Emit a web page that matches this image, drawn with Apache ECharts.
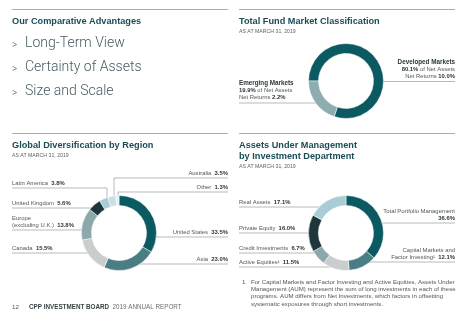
<!DOCTYPE html>
<html>
<head>
<meta charset="utf-8">
<script src="https://cdn.jsdelivr.net/npm/echarts@6/dist/echarts.min.js"></script>
<style>
  html, body { margin: 0; padding: 0; background: #ffffff; }
  #chart { width: 474px; height: 332px; }
</style>
</head>
<body>
<div id="chart"></div>
<script>
// ---- Data ----
const advantages = ['Long-Term View', 'Certainty of Assets', 'Size and Scale'];

const marketNames = ['Developed Markets', 'Emerging Markets'];
const marketShare = [80.1, 19.9];
const marketReturns = [10.0, 2.2];

const regionNames = ['United States', 'Asia', 'Canada', 'Europe\n(excluding U.K.)',
  'United Kingdom', 'Latin America', 'Australia', 'Other'];
const regionShare = [33.5, 23.0, 15.5, 13.8, 5.6, 3.8, 3.5, 1.3];

const deptNames = ['Total Portfolio Management\n', 'Capital Markets and\nFactor Investing¹',
  'Active Equities¹', 'Credit Investments', 'Private Equity', 'Real Assets'];
const deptShare = [36.6, 12.1, 11.5, 6.7, 16.0, 17.1];

const subtitle = 'AS AT MARCH 31, 2019';
const footnote = [
  'For Capital Markets and Factor Investing and Active Equities, Assets Under',
  'Management (AUM) represent the sum of long investments in each of these',
  'programs. AUM differs from Net Investments, which factors in offsetting',
  'systematic exposures through short investments.'
];

// ---- Styling ----
const FONT = '"Liberation Sans", Arial, sans-serif';
const HEAD = '#1b4d56';
const BODY = '#50575a';
const STRONG = '#2b3639';
const RULE = '#a8adaf';
const LEAD = '#959b9d';

const marketColors = ['#0b5a62', '#8dadb1'];
const regionColors = ['#0b5a62', '#4b7e84', '#c9cdce', '#8ba8ab', '#1f363c', '#a9ccd6', '#c8dfe6', '#e3eef1'];
const deptColors = ['#0b5a62', '#4b7e84', '#c9cdce', '#8ba8ab', '#1f363c', '#a8cdd7'];

// label anchor + leader line per slice (layout only)
const regionLayout = [
  { x: 228, y: 235.5, align: 'right', line: [[150, 237], [228, 237]] },
  { x: 228, y: 262.5, align: 'right', line: [[118, 264], [228, 264]] },
  { x: 12, y: 251.5, align: 'left', line: [[12, 253], [93, 253]] },
  { x: 12, y: 228.5, align: 'left', line: [[12, 230], [88, 230]] },
  { x: 12, y: 206.5, align: 'left', line: [[12, 208], [94, 208]] },
  { x: 12, y: 186.5, align: 'left', line: [[12, 188], [107, 188], [107, 201]] },
  { x: 228, y: 176.5, align: 'right', line: [[228, 178], [114, 178], [114, 199]] },
  { x: 228, y: 190.5, align: 'right', line: [[228, 192], [118, 192], [118, 201]] }
];
const deptLayout = [
  { x: 455, y: 221.5, align: 'right', line: [[377, 223], [455, 223]] },
  { x: 455, y: 260.5, align: 'right', line: [[352, 262], [455, 262]] },
  { x: 239, y: 265.5, align: 'left', line: [[239, 267], [339, 267]] },
  { x: 239, y: 251.5, align: 'left', line: [[239, 253], [320, 253]] },
  { x: 239, y: 231.5, align: 'left', line: [[239, 233], [316, 233]] },
  { x: 239, y: 205.5, align: 'left', line: [[239, 207], [327, 207]] }
];
const marketLayout = [
  { x: 455, y: 79.5, align: 'right', line: [[378, 81.5], [455, 81.5]] },
  { x: 239, y: 101, align: 'left', line: [[239, 103], [322, 103]] }
];

const labelRich = {
  n: { fontFamily: FONT, fontSize: 5.9, fill: BODY, lineHeight: 7 },
  v: { fontFamily: FONT, fontSize: 5.9, fontWeight: 'bold', fill: STRONG, lineHeight: 7 },
  h: { fontFamily: FONT, fontSize: 6.3, fontWeight: 'bold', fill: STRONG, lineHeight: 7 }
};

function pct(v) { return v.toFixed(1) + '%'; }

// name lines in regular weight, value appended in bold on the last line
function sliceLabel(name, value) {
  const lines = name.split('\n');
  const last = lines.pop();
  const out = lines.map(l => '{n|' + l + '}');
  out.push((last ? '{n|' + last + '}  ' : '') + '{v|' + pct(value) + '}');
  return out.join('\n');
}

const graphics = [];
function text(x, y, str, style) {
  graphics.push({ type: 'text', x: x, y: y, silent: true,
    style: Object.assign({ text: str, fontFamily: FONT, verticalAlign: 'middle' }, style) });
}
function rule(x1, x2, y) {
  graphics.push({ type: 'line', silent: true, shape: { x1: x1, y1: y, x2: x2, y2: y },
    style: { stroke: RULE, lineWidth: 1 } });
}
function leader(points) {
  graphics.push({ type: 'polyline', silent: true, shape: { points: points },
    style: { stroke: LEAD, lineWidth: 0.7, fill: null } });
}
function sliceLabels(names, values, layout) {
  names.forEach((n, i) => {
    const L = layout[i];
    leader(L.line);
    graphics.push({ type: 'text', x: L.x, y: L.y, silent: true,
      style: { text: sliceLabel(n, values[i]), rich: labelRich, align: L.align,
        verticalAlign: 'bottom', fontFamily: FONT, fontSize: 5.9, lineHeight: 7 } });
  });
}

// section rules
rule(12, 228, 9.5); rule(239, 455, 9.5);
rule(12, 228, 133.5); rule(239, 455, 133.5);

// headings
const headStyle = { fontSize: 9.2, fontWeight: 'bold', fill: HEAD };
const subStyle = { fontSize: 5.2, fill: '#5d6466' };
text(12, 21, 'Our Comparative Advantages', headStyle);
text(239, 21, 'Total Fund Market Classification', headStyle);
text(239, 32, subtitle, subStyle);
text(12, 145, 'Global Diversification by Region', headStyle);
text(12, 155.5, subtitle, subStyle);
text(239, 145, 'Assets Under Management', headStyle);
text(239, 156, 'by Investment Department', headStyle);
text(239, 166.5, subtitle, subStyle);

// comparative advantages list
advantages.forEach((a, i) => {
  const y = 43 + i * 24;
  text(12, y + 2, '>', { fontSize: 10, fill: '#4f6166', fontFamily: 'Roboto, sans-serif', fontWeight: 300 });
  text(25, y, a, { fontSize: 14, fill: '#465b60', fontFamily: 'Roboto, sans-serif', fontWeight: 300 });
});

// market classification labels
marketNames.forEach((n, i) => {
  const L = marketLayout[i];
  leader(L.line);
  graphics.push({ type: 'text', x: L.x, y: L.y, silent: true,
    style: { text: '{h|' + n + '}\n{v|' + pct(marketShare[i]) + '} {n|of Net Assets}\n{n|Net Returns} {v|' + pct(marketReturns[i]) + '}',
      rich: labelRich, align: L.align, verticalAlign: 'bottom', fontFamily: FONT, fontSize: 5.9, lineHeight: 7 } });
});

sliceLabels(regionNames, regionShare, regionLayout);
sliceLabels(deptNames, deptShare, deptLayout);

// footnote
text(242, 282, '1', { fontSize: 6.1, fill: BODY });
footnote.forEach((l, i) => text(251, 282 + i * 7.3, l, { fontSize: 6.1, fill: BODY }));

// page footer
text(12, 307, '12', { fontSize: 6.2, fill: BODY });
graphics.push({ type: 'text', x: 29, y: 307, silent: true,
  style: { text: '{b|CPP INVESTMENT BOARD} {r|2019 ANNUAL REPORT}', verticalAlign: 'middle',
    rich: { b: { fontFamily: FONT, fontSize: 6.3, fontWeight: 'bold', fill: '#3a4245' },
            r: { fontFamily: FONT, fontSize: 6.3, fill: '#6a7073' } } } });

function donut(center, names, values, colors, startAngle) {
  return {
    type: 'pie', center: center, radius: [27.5, 37.5], startAngle: startAngle, clockwise: true,
    silent: true, animation: false, label: { show: false }, labelLine: { show: false },
    itemStyle: { borderColor: '#ffffff', borderWidth: 0.5 },
    data: names.map((n, i) => ({ name: n, value: values[i], itemStyle: { color: colors[i] } }))
  };
}

const chart = echarts.init(document.getElementById('chart'), null, { renderer: 'canvas' });
chart.setOption({
  backgroundColor: '#ffffff',
  animation: false,
  series: [
    donut([346, 81], marketNames, marketShare, marketColors, 180),
    donut([119, 233], regionNames, regionShare, regionColors, 90),
    donut([346, 233], deptNames, deptShare, deptColors, 90)
  ],
  graphic: graphics
});
</script>
</body>
</html>
